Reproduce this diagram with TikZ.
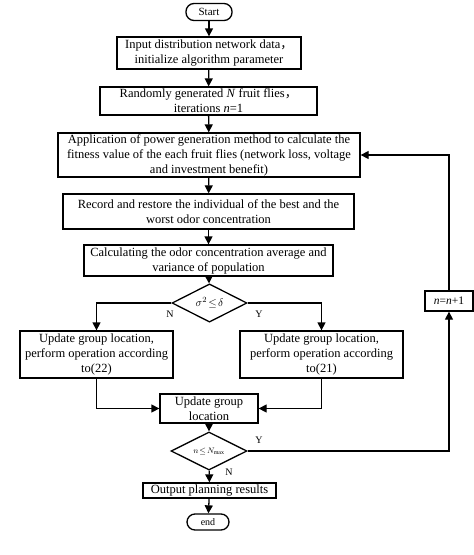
\documentclass[tikz,border=0pt]{standalone}
\usepackage{fontspec}
\setmainfont{Liberation Serif}
\newfontfamily\cjk{Noto Sans CJK SC}
\usetikzlibrary{shapes.geometric,arrows.meta}
\begin{document}
\begin{tikzpicture}[x=1pt,y=-1pt,
  every node/.style={font=\fontsize{12.5}{15}\selectfont},
  box/.style={draw,line width=1.3pt,rectangle,inner sep=0.5pt,align=center},
  term/.style={draw,line width=1.3pt,rectangle,rounded corners=8pt,inner sep=0.5pt,align=center},
  dia/.style={draw,line width=1.3pt,diamond,inner sep=0pt,align=center},
  lab/.style={font=\fontsize{10}{12}\selectfont},
  arr/.style={line width=1.3pt,-{Triangle[length=8pt,width=8pt]}}]
\useasboundingbox (0,0) rectangle (474,555);
\node[term,minimum width=46pt,minimum height=17pt,font=\fontsize{11}{13}\selectfont] (start) at (209,12) {Start};
\node[box,minimum width=184pt,minimum height=32pt] (b1) at (209,53) {Input distribution network data{\cjk ，}\\initialize algorithm parameter};
\node[box,minimum width=217pt,minimum height=28pt] (b2) at (208.5,101) {Randomly generated \textit{N} fruit flies{\cjk ，}\\iterations \textit{n}=1};
\node[box,minimum width=302pt,minimum height=44pt] (b3) at (209,155) {Application of power generation method to calculate the\\fitness value of the each fruit flies (network loss, voltage\\and investment benefit)};
\node[box,minimum width=291pt,minimum height=35pt] (b4) at (208.5,211.5) {Record and restore the individual of  the best and the\\worst odor concentration};
\node[box,minimum width=249pt,minimum height=31pt] (b5) at (208.5,260.5) {Calculating the odor concentration  average and\\variance of population};
\node[dia,minimum width=75pt,minimum height=24pt,font=\fontsize{11}{13}\selectfont] (d1) at (209.5,303) {$\sigma^2\!\leq\!\delta$};
\node[box,minimum width=153pt,minimum height=47pt] (bl) at (96.5,354.5) {Update group location,\\perform operation according\\to(22)};
\node[box,minimum width=163pt,minimum height=47pt] (br) at (321.5,354.5) {Update group location,\\perform operation according\\to(21)};
\node[box,minimum width=98pt,minimum height=29pt] (bm) at (209,408.5) {Update group\\location};
\node[dia,minimum width=76pt,minimum height=24pt,font=\fontsize{8}{9}\selectfont] (d2) at (209,451) {$n\!\leq\! N_{\max}$};
\node[box,minimum width=133pt,minimum height=15pt] (out) at (209.5,490.5) {Output planning results};
\node[term,minimum width=42pt,minimum height=16pt,font=\fontsize{10}{12}\selectfont] (end) at (208,522) {end};
\node[box,minimum width=48pt,minimum height=20pt,font=\fontsize{11.5}{13}\selectfont] (inc) at (449,301) {\textit{n}=\textit{n}+1};
\draw[arr] (start) -- (b1);
\draw[arr] (b1) -- (b2);
\draw[arr] (b2) -- (b3);
\draw[arr] (b3) -- (b4);
\draw[arr] (b4) -- (b5);
\draw[arr] (b5) -- (d1);
\draw[arr] (d1.west) -| (bl.north);
\draw[arr] (d1.east) -| (br.north);
\draw[arr] (bl.south) |- (bm.west);
\draw[arr] (br.south) |- (bm.east);
\draw[arr] (bm) -- (d2);
\draw[arr] (d2) -- (out);
\draw[arr] (out) -- (end);
\draw[arr] (d2.east) -| (inc.south);
\draw[arr] (inc.north) |- (b3.east);
\node[lab] (lN1) at (170,314) {N};
\node[lab] (lY1) at (259,314) {Y};
\node[lab] (lY2) at (259,440) {Y};
\node[lab] (lN2) at (229,472) {N};
\end{tikzpicture}
\end{document}
